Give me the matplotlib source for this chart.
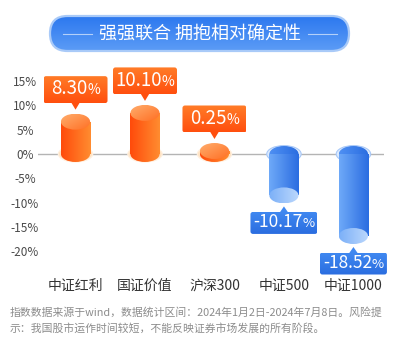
import numpy as np
import matplotlib
matplotlib.use("Agg")
import matplotlib.pyplot as plt
from matplotlib.patches import Ellipse, Rectangle, FancyBboxPatch, Polygon
from matplotlib.colors import LinearSegmentedColormap
from matplotlib.offsetbox import TextArea, HPacker, AnnotationBbox
from matplotlib.transforms import ScaledTranslation

plt.rcParams['font.family'] = ['Noto Sans CJK SC', 'DejaVu Sans']

# datos
titulo = '强强联合 拥抱相对确定性'
indices = ['中证红利', '国证价值', '沪深300', '中证500', '中证1000']
rendimientos = [8.30, 10.10, 0.25, -10.17, -18.52]
yticks = [15, 10, 5, 0, -5, -10, -15, -20]
nota = ['指数数据来源于wind，数据统计区间：2024年1月2日-2024年7月8日。风险提',
        '示：我国股市运作时间较短，不能反映证券市场发展的所有阶段。']

W, H = 395, 346
PX = 4.86          # pixeles por 1 %
fig = plt.figure(figsize=(W / 100, H / 100), dpi=100)

fondo = fig.add_axes([0, 0, 1, 1])
ax = fig.add_axes([38 / W, 1 - 268 / H, 346 / W, 213 / H])
ax.patch.set_alpha(0)


def degradado(eje, extent, c1, c2, clip, zorder, modo='h', transform=None):
    cmap = LinearSegmentedColormap.from_list('g', [c1, c2])
    n = 64
    g = np.linspace(0, 1, n)
    if modo == 'h':
        img = np.tile(g, (n, 1))
    elif modo == 'v':
        img = np.tile(g.reshape(-1, 1), (1, n))
    else:
        J, I = np.meshgrid(g, g)
        img = (J + (1 - I)) / 2
    im = eje.imshow(img, extent=extent, cmap=cmap, aspect='auto', zorder=zorder,
                    origin='lower', interpolation='bilinear', vmin=0, vmax=1)
    if transform is not None:
        im.set_transform(transform)
    im.set_clip_box(fig.bbox)
    im.set_clip_path(clip)
    return im


# ---- banner del titulo ----
banner = FancyBboxPatch((50, 16), 299, 35, boxstyle='round,pad=0,rounding_size=17.5',
                        fc='none', ec='#a9caf8', lw=1.6, zorder=3, transform=fondo.transData)
fondo.add_patch(banner)
degradado(fondo, (50, 349, 51, 16), '#5c9cf6', '#2c78ef', banner, 2, modo='v')
fondo.text(200, 33.5, titulo, color='white', fontsize=13, fontweight='medium',
           ha='center', va='center', zorder=4)
fondo.plot([63, 92], [33.5, 33.5], color='white', alpha=0.6, lw=0.8, zorder=4)
fondo.plot([308, 337], [33.5, 33.5], color='white', alpha=0.6, lw=0.8, zorder=4)

# ---- nota al pie ----
fondo.text(10, 312, nota[0], color='#8c8c8c', fontsize=7.8, ha='left', va='center')
fondo.text(10, 328, nota[1], color='#8c8c8c', fontsize=7.8, ha='left', va='center')
fondo.set_xlim(0, W)
fondo.set_ylim(H, 0)
fondo.axis('off')

# ---- cilindros ----
w = 0.42
eh = 16 / PX
grosor = 3 / PX
centros = []
for i, v in enumerate(rendimientos):
    s = 1 if v >= 0 else -1
    c = s * max(abs(v) - eh / 2, grosor)   # el borde de la tapa queda en el valor
    centros.append(c)
    if v >= 0:
        base = Ellipse((i, 0), w * 1.18, eh, fc='#ffe3c4', ec='#fff0df', lw=0.8,
                       zorder=2, clip_on=False)
        ax.add_patch(base)
        e0 = Ellipse((i, 0), w, eh, transform=ax.transData)
        degradado(ax, (i - w / 2, i + w / 2, -eh / 2, eh / 2), '#ff4b0b', '#ff8c30', e0, 3)
        r = Rectangle((i - w / 2, 0), w, c, transform=ax.transData)
        degradado(ax, (i - w / 2, i + w / 2, 0, c), '#ff4b0b', '#ff8c30', r, 3)
        tapa = Ellipse((i, c), w, eh, transform=ax.transData)
        degradado(ax, (i - w / 2, i + w / 2, c - eh / 2, c + eh / 2), '#ffad6c', '#ff6f24', tapa, 4, modo='d')
    else:
        base = Ellipse((i, 0), w * 1.18, eh * 1.05, fc='#dceafd', ec='#a9c9f8', lw=0.8,
                       zorder=2, clip_on=False)
        ax.add_patch(base)
        e0 = Ellipse((i, 0), w, eh, transform=ax.transData)
        degradado(ax, (i - w / 2, i + w / 2, -eh / 2, eh / 2), '#4f90f3', '#2a6de0', e0, 3)
        r = Rectangle((i - w / 2, c), w, -c, transform=ax.transData)
        degradado(ax, (i - w / 2, i + w / 2, c, 0), '#6ea9f8', '#2b6de1', r, 3)
        tapa = Ellipse((i, c), w, eh, transform=ax.transData)
        degradado(ax, (i - w / 2, i + w / 2, c - eh / 2, c + eh / 2), '#7cb0f8', '#bcd8fc', tapa, 4)

# ---- etiquetas de valor ----
for i, v in enumerate(rendimientos):
    c = centros[i]
    tr = fig.dpi_scale_trans + ScaledTranslation(i, c, ax.transData)
    if v >= 0:
        cy, bw, bh, tip = 0.32, 0.64, 0.27, 0.12
        c_bot, c_top, fs, fs2 = '#ff4f0e', '#ff7c28', 13.5, 10
        y0 = cy - bh / 2
        tri = [(-0.045, y0 + 0.01), (0.045, y0 + 0.01), (0, tip)]
    else:
        cy, bw, bh, tip = -0.275, 0.67, 0.22, -0.11
        c_bot, c_top, fs, fs2 = '#2a6de0', '#4088f0', 12.5, 9.5
        y0 = cy - bh / 2
        tri = [(-0.045, y0 + bh - 0.01), (0.045, y0 + bh - 0.01), (0, tip)]
    caja = FancyBboxPatch((-bw / 2, y0), bw, bh, boxstyle='round,pad=0,rounding_size=0.025',
                          transform=tr)
    degradado(ax, (-bw / 2, bw / 2, y0, y0 + bh), c_bot, c_top, caja, 6, modo='v', transform=tr)
    p = Polygon(tri, closed=True, fc=c_bot if v >= 0 else c_top, ec='none', transform=tr,
                zorder=6, clip_on=False)
    ax.add_patch(p)
    txt = HPacker(children=[TextArea(f'{v:.2f}', textprops=dict(color='white', fontsize=fs)),
                            TextArea('%', textprops=dict(color='white', fontsize=fs2))],
                  align='baseline', pad=0, sep=0)
    ab = AnnotationBbox(txt, (i, c), xybox=(0, cy * 72 + 0.5), boxcoords='offset points',
                        frameon=False, box_alignment=(0.5, 0.5), annotation_clip=False, zorder=7)
    ax.add_artist(ab)

# ---- ejes ----
ax.axhline(0, color='#b4b4b4', lw=1, zorder=1)
ax.set_xticks(range(len(indices)))
ax.set_xticklabels(indices, fontsize=10, color='#333333')
ax.set_yticks(yticks)
ax.set_yticklabels([f'{t}%' for t in yticks], fontsize=8.5, color='#4a4a4a', ha='center')
ax.tick_params(axis='y', length=0, pad=9.4)
ax.tick_params(axis='x', length=0, pad=8)
for s in ax.spines.values():
    s.set_visible(False)
ax.set_xlim(-0.54, 4.44)
ax.set_ylim(-(268 - 154) / PX, (154 - 55) / PX)

fig.savefig('out.png', dpi=100)
